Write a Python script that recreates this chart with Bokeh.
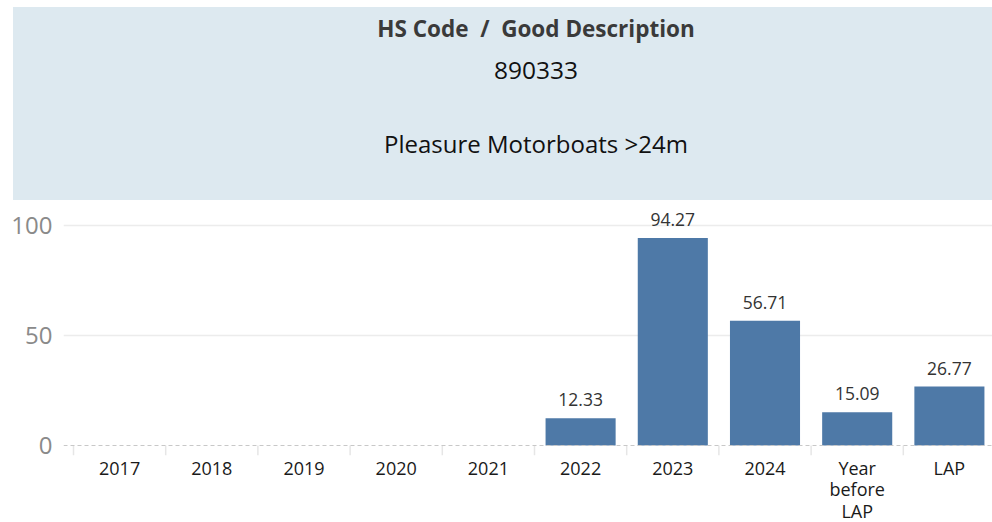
from bokeh.plotting import figure
from bokeh.layouts import column
from bokeh.models import Range1d, FixedTicker, Span, ColumnDataSource, Div
from bokeh.core.properties import value
from bokeh.embed import file_html
from bokeh.resources import INLINE

# ---- data ----
categories = ["2017", "2018", "2019", "2020", "2021", "2022", "2023", "2024", "Year\nbefore\nLAP", "LAP"]
values = [None, None, None, None, None, 12.33, 94.27, 56.71, 15.09, 26.77]
y_ticks = [0, 50, 100]
header_title = "HS Code / Good Description"
header_code = "890333"
header_desc = "Pleasure Motorboats >24m"

FONT = "Open Sans"
BAR = "#4e79a7"

# ---- header (HTML block) ----
def line(top, txt, size, weight, color):
    return ('<div style="position:absolute;left:0;width:1046px;top:%dpx;text-align:center;'
            'font-family:\'Open Sans\';font-size:%s;font-weight:%s;color:%s;white-space:pre;'
            'line-height:1;">%s</div>' % (top, size, weight, color, txt))

title_html = header_title.replace(" / ", "&nbsp;&nbsp;/&nbsp;&nbsp;")
html = ('<div style="position:relative;width:979px;height:193px;background:#dde9f0;overflow:hidden;">'
        + line(11, title_html, "22.5px", "bold", "#3a3a3a")
        + line(51, header_code, "24.5px", "normal", "#111111")
        + line(125, header_desc.replace(">", "&gt;"), "24px", "normal", "#111111")
        + '</div>')
h = Div(text=html, width=979, height=193, margin=(7, 0, 0, 13))

# ---- chart ----
px_per_unit = 2.2
band = 92.2
frame_w = 929
frame_h = 250
x0 = -10 / band
p = figure(frame_width=frame_w, frame_height=frame_h, output_backend="svg", toolbar_location=None,
           x_range=Range1d(x0, x0 + frame_w / band),
           y_range=Range1d(-10 / px_per_unit, (frame_h - 10) / px_per_unit),
           min_border_left=63, min_border_right=0, min_border_top=5, min_border_bottom=60)
p.outline_line_color = None
p.background_fill_color = "white"

idx = [i for i, v in enumerate(values) if v is not None]
centers = [i + 0.5 for i in idx]
vals = [values[i] for i in idx]
src = ColumnDataSource(dict(x=centers, top=vals, lab=["%.2f" % v for v in vals]))

p.xgrid.visible = False
p.ygrid.ticker = FixedTicker(ticks=[t for t in y_ticks if t != 0])
p.ygrid.grid_line_color = "#ececec"
p.ygrid.grid_line_width = 1.5

# band dividers
p.segment(x0=list(range(len(categories))), x1=list(range(len(categories))),
          y0=[0] * len(categories), y1=[-10 / px_per_unit] * len(categories),
          line_color="#e6e6e6", line_width=1.5)

p.add_layout(Span(location=0, dimension="width", line_color="#c8c8c8",
                  line_dash="4 3", line_width=1))

p.vbar(x="x", top="top", bottom=0, width=0.76, source=src, color=BAR, line_color=None)
p.text(x="x", y="top", text="lab", source=src, text_font=value(FONT), text_font_size="17.5px",
       text_color="#333333", text_align="center", text_baseline="bottom", y_offset=-12)

# axes
p.xaxis.ticker = FixedTicker(ticks=[i + 0.5 for i in range(len(categories))])
p.xaxis.major_label_overrides = {i + 0.5: c for i, c in enumerate(categories)}
p.xaxis.axis_line_color = None
p.xaxis.major_tick_line_color = None
p.xaxis.minor_tick_line_color = None
p.xaxis.major_label_text_font = FONT
p.xaxis.major_label_text_font_size = "18px"
p.xaxis.major_label_text_color = "#1a1a1a"
p.xaxis.major_label_standoff = -6
p.xaxis.major_label_text_line_height = 0.9

p.yaxis.ticker = FixedTicker(ticks=y_ticks)
p.yaxis.axis_line_color = None
p.yaxis.major_tick_line_color = None
p.yaxis.minor_tick_line_color = None
p.yaxis.major_label_text_font = FONT
p.yaxis.major_label_text_font_size = "24px"
p.yaxis.major_label_text_color = "#8a8a8a"
p.yaxis.major_label_standoff = 5

layout = column(h, p, spacing=0)
open("out.html", "w").write(file_html(layout, INLINE))
